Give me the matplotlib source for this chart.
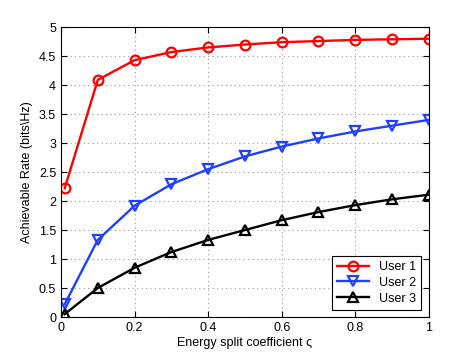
import matplotlib
matplotlib.use("Agg")
import matplotlib.pyplot as plt

plt.rcParams['font.family'] = ['Liberation Sans', 'DejaVu Sans']

x = [0.01, 0.1, 0.2, 0.3, 0.4, 0.5, 0.6, 0.7, 0.8, 0.9, 1.0]
user1 = [2.22, 4.09, 4.43, 4.57, 4.65, 4.70, 4.74, 4.76, 4.78, 4.79, 4.80]
user2 = [0.22, 1.33, 1.92, 2.29, 2.55, 2.77, 2.94, 3.08, 3.20, 3.30, 3.40]
user3 = [0.05, 0.50, 0.85, 1.12, 1.33, 1.50, 1.67, 1.81, 1.93, 2.03, 2.11]
labels = ['User 1', 'User 2', 'User 3']
xticks = [0, 0.2, 0.4, 0.6, 0.8, 1]
yticks = [0, 0.5, 1, 1.5, 2, 2.5, 3, 3.5, 4, 4.5, 5]

fig = plt.figure(figsize=(4.74, 3.57), dpi=100)
ax = fig.add_axes([0.1287, 0.112, 0.776, 0.812])

ax.plot(x, user1, color='#ff0000', lw=1.7, marker='o', ms=7, mfc='none', mew=1.6, label=labels[0])
ax.plot(x, user2, color='#1f3fff', lw=1.7, marker='v', ms=7.5, mfc='none', mew=1.6, label=labels[1])
ax.plot(x, user3, color='black', lw=1.7, marker='^', ms=7.5, mfc='none', mew=1.6, label=labels[2])

ax.set_xlim(0, 1)
ax.set_ylim(0, 5)
ax.set_xticks(xticks)
ax.set_xticklabels(['0', '0.2', '0.4', '0.6', '0.8', '1'])
ax.set_yticks(yticks)
ax.set_yticklabels(['0', '0.5', '1', '1.5', '2', '2.5', '3', '3.5', '4', '4.5', '5'])
ax.tick_params(direction='in', top=True, right=True, labelsize=9, length=4)
ax.grid(True, linestyle=(0, (1, 3)), color='#999999', lw=0.8)
ax.set_xlabel('Energy split coefficient ς', fontsize=9, labelpad=2)
ax.set_ylabel('Achievable Rate (bits\\Hz)', fontsize=9, labelpad=4)
leg = ax.legend(loc='lower right', fontsize=9, fancybox=False, edgecolor='black',
                framealpha=1, handlelength=2.6, borderaxespad=0.6, labelspacing=0.3)
leg.get_frame().set_linewidth(0.8)

fig.savefig('out.png', dpi=100)
